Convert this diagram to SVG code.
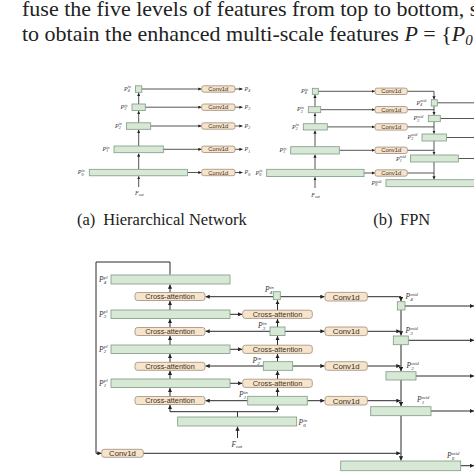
<svg xmlns="http://www.w3.org/2000/svg" width="474" height="474" viewBox="0 0 474 474">
<defs>
<style>
.g{fill:#d7e8d5;stroke:#7d9a84;stroke-width:0.8}
.c{fill:#f7e4cc;stroke:#a08e78;stroke-width:0.8}
.ln{fill:none;stroke:#2a2a2a;stroke-width:0.8}
.lc{fill:none;stroke:#2a2a2a;stroke-width:1}
.t{font-family:"Liberation Sans",Arial,sans-serif;fill:#3b2f25;text-anchor:middle}
.ts{font-size:5.8px}
.tc{font-size:7.8px}
.tx{font-size:7.3px}
.m{font-family:"Liberation Serif","Times New Roman",serif;font-style:italic;fill:#333}
.body{font-family:"Liberation Serif","Times New Roman",serif;font-size:22px;fill:#222}
.cap{font-family:"Liberation Serif","Times New Roman",serif;font-size:16.5px;fill:#222}
</style>
<marker id="a" viewBox="0 0 10 10" refX="10" refY="5" markerWidth="3.2" markerHeight="3.2" markerUnits="userSpaceOnUse" orient="auto"><path d="M0,0 L10,5 L0,10 z" fill="#222"/></marker>
<marker id="b" viewBox="0 0 10 10" refX="10" refY="5" markerWidth="4.2" markerHeight="4.2" markerUnits="userSpaceOnUse" orient="auto"><path d="M0,0 L10,5 L0,10 z" fill="#222"/></marker>
</defs>
<rect width="474" height="474" fill="#fff"/>

<!-- body text -->
<text class="body" x="22" y="16">fuse the five levels of features from top to bottom, s</text>
<text class="body" x="22" y="40.5">to obtain the enhanced multi-scale features <tspan font-style="italic">P</tspan> = {<tspan font-style="italic">P</tspan><tspan font-style="italic" font-size="15" dy="4">0</tspan></text>

<!-- captions -->
<text class="cap" x="77" y="225">(a)</text>
<text class="cap" x="103.3" y="225">Hierarchical Network</text>
<text class="cap" x="373.3" y="225">(b)</text>
<text class="cap" x="400" y="225">FPN</text>

<!-- ================= (a) connectors ================= -->
<g id="a-connectors" class="ln">
<path d="M138.7,187 V176.2" marker-end="url(#a)"/>
<path d="M138.7,169.3 V153.5" marker-end="url(#a)"/>
<path d="M138.7,146 V129.8" marker-end="url(#a)"/>
<path d="M138.7,122.8 V111" marker-end="url(#a)"/>
<path d="M138.7,104 V92.8" marker-end="url(#a)"/>
<path d="M141.7,89 H201.5" marker-end="url(#a)"/>
<path d="M145.3,107.2 H201.5" marker-end="url(#a)"/>
<path d="M150.7,126 H201.5" marker-end="url(#a)"/>
<path d="M163.3,149.3 H201.5" marker-end="url(#a)"/>
<path d="M187.5,172.5 H201.5" marker-end="url(#a)"/>
<path d="M235,89 H242.5" marker-end="url(#a)"/>
<path d="M235,107.2 H242.5" marker-end="url(#a)"/>
<path d="M235,126 H242.5" marker-end="url(#a)"/>
<path d="M235,149.3 H242.5" marker-end="url(#a)"/>
<path d="M235,172.5 H242.5" marker-end="url(#a)"/>
</g>
<g id="a-p4in"><rect class="g" x="135.5" y="85.8" width="6.3" height="6.5"/><text class="m" font-size="6" x="124" y="90.7">P<tspan font-size="4" x="127.8" y="88.3">in</tspan><tspan font-size="4" x="127.8" y="92">4</tspan></text></g>
<g id="a-p3in"><rect class="g" x="132" y="104" width="13.3" height="6.5"/><text class="m" font-size="6" x="120.5" y="108.9">P<tspan font-size="4" x="124.3" y="106.5">in</tspan><tspan font-size="4" x="124.3" y="110.2">3</tspan></text></g>
<g id="a-p2in"><rect class="g" x="126.5" y="122.8" width="24.2" height="6.5"/><text class="m" font-size="6" x="115" y="127.7">P<tspan font-size="4" x="118.8" y="125.3">in</tspan><tspan font-size="4" x="118.8" y="129">2</tspan></text></g>
<g id="a-p1in"><rect class="g" x="114" y="146" width="49.3" height="6.7"/><text class="m" font-size="6" x="102.5" y="151">P<tspan font-size="4" x="106.3" y="148.6">in</tspan><tspan font-size="4" x="106.3" y="152.3">1</tspan></text></g>
<g id="a-p0in"><rect class="g" x="89.3" y="169.3" width="98.2" height="6.5"/><text class="m" font-size="6" x="77.8" y="174.2">P<tspan font-size="4" x="81.6" y="171.8">in</tspan><tspan font-size="4" x="81.6" y="175.5">0</tspan></text></g>
<g id="a-fcat"><text class="m" font-size="6" x="135" y="194.5">F<tspan font-size="4" dy="1">cat</tspan></text></g>
<g id="a-conv4"><rect class="c" x="201.7" y="85.8" width="33.3" height="6.4" rx="2"/><text class="t ts" x="218.3" y="91">Conv1d</text></g>
<g id="a-conv3"><rect class="c" x="201.7" y="104" width="33.3" height="6.4" rx="2"/><text class="t ts" x="218.3" y="109.2">Conv1d</text></g>
<g id="a-conv2"><rect class="c" x="201.7" y="122.8" width="33.3" height="6.4" rx="2"/><text class="t ts" x="218.3" y="128">Conv1d</text></g>
<g id="a-conv1"><rect class="c" x="201.7" y="146.1" width="33.3" height="6.4" rx="2"/><text class="t ts" x="218.3" y="151.3">Conv1d</text></g>
<g id="a-conv0"><rect class="c" x="201.7" y="169.3" width="33.3" height="6.4" rx="2"/><text class="t ts" x="218.3" y="174.5">Conv1d</text></g>
<g id="a-out"><text class="m" font-size="6" x="244.5" y="90.8">P<tspan font-size="4" x="248.3" y="92.2">4</tspan></text>
<text class="m" font-size="6" x="244.5" y="109">P<tspan font-size="4" x="248.3" y="110.4">3</tspan></text>
<text class="m" font-size="6" x="244.5" y="127.8">P<tspan font-size="4" x="248.3" y="129.2">2</tspan></text>
<text class="m" font-size="6" x="244.5" y="151.1">P<tspan font-size="4" x="248.3" y="152.5">1</tspan></text>
<text class="m" font-size="6" x="244.5" y="174.3">P<tspan font-size="4" x="248.3" y="175.7">0</tspan></text></g>

<!-- ================= (b) connectors ================= -->
<g id="b-connectors" class="ln">
<path d="M315,188 V177.2" marker-end="url(#a)"/>
<path d="M315,169.3 V154.5" marker-end="url(#a)"/>
<path d="M315,146.7 V130.5" marker-end="url(#a)"/>
<path d="M315,123.7 V113.2" marker-end="url(#a)"/>
<path d="M315,106.7 V94.8" marker-end="url(#a)"/>
<path d="M318.3,91.3 H374.8" marker-end="url(#a)"/>
<path d="M320.7,109.7 H374.8" marker-end="url(#a)"/>
<path d="M327.3,126.9 H374.8" marker-end="url(#a)"/>
<path d="M339.3,150.3 H374.8" marker-end="url(#a)"/>
<path d="M364,173 H374.8" marker-end="url(#a)"/>
<path d="M407.3,91.3 H434 V99.4" marker-end="url(#a)"/>
<path d="M407.3,109.7 H434"/>
<path d="M407.3,126.9 H434"/>
<path d="M407.3,150.3 H434"/>
<path d="M407.3,173 H434"/>
<path d="M434,106 V115" marker-end="url(#a)"/>
<path d="M434,121.7 V133.7" marker-end="url(#a)"/>
<path d="M434,141 V154.7" marker-end="url(#a)"/>
<path d="M434,162 V179.4" marker-end="url(#a)"/>
<path d="M437.3,102.8 H474"/>
<path d="M440.3,118.5 H474"/>
<path d="M446.5,137.5 H474"/>
<path d="M458.3,158.5 H474"/>
</g>
<g id="b-p4in"><rect class="g" x="312.3" y="88.3" width="6" height="6"/><text class="m" font-size="6" x="301" y="93">P<tspan font-size="4" x="304.8" y="90.6">in</tspan><tspan font-size="4" x="304.8" y="94.3">4</tspan></text></g>
<g id="b-p3in"><rect class="g" x="308.3" y="106.7" width="12.4" height="6"/><text class="m" font-size="6" x="297" y="111.4">P<tspan font-size="4" x="300.8" y="109">in</tspan><tspan font-size="4" x="300.8" y="112.7">3</tspan></text></g>
<g id="b-p2in"><rect class="g" x="303.3" y="123.7" width="24" height="6.3"/><text class="m" font-size="6" x="292" y="128.6">P<tspan font-size="4" x="295.8" y="126.2">in</tspan><tspan font-size="4" x="295.8" y="129.9">2</tspan></text></g>
<g id="b-p1in"><rect class="g" x="290.7" y="146.7" width="48.6" height="7.3"/><text class="m" font-size="6" x="279.5" y="152">P<tspan font-size="4" x="283.3" y="149.6">in</tspan><tspan font-size="4" x="283.3" y="153.3">1</tspan></text></g>
<g id="b-p0in"><rect class="g" x="266.7" y="169.3" width="97.3" height="7.3"/><text class="m" font-size="6" x="255.5" y="174.7">P<tspan font-size="4" x="259.3" y="172.3">in</tspan><tspan font-size="4" x="259.3" y="176">0</tspan></text></g>
<g id="b-fcat"><text class="m" font-size="6" x="311.3" y="196.5">F<tspan font-size="4" dy="1">cat</tspan></text></g>
<g id="b-conv4"><rect class="c" x="375" y="88.1" width="32.3" height="6.4" rx="2"/><text class="t ts" x="391.2" y="93.3">Conv1d</text></g>
<g id="b-conv3"><rect class="c" x="375" y="106.5" width="32.3" height="6.4" rx="2"/><text class="t ts" x="391.2" y="111.7">Conv1d</text></g>
<g id="b-conv2"><rect class="c" x="375" y="123.7" width="32.3" height="6.4" rx="2"/><text class="t ts" x="391.2" y="128.9">Conv1d</text></g>
<g id="b-conv1"><rect class="c" x="375" y="147.1" width="32.3" height="6.4" rx="2"/><text class="t ts" x="391.2" y="152.3">Conv1d</text></g>
<g id="b-conv0"><rect class="c" x="375" y="169.8" width="32.3" height="6.4" rx="2"/><text class="t ts" x="391.2" y="175">Conv1d</text></g>
<g id="b-p4mid"><rect class="g" x="431.3" y="99.7" width="6" height="6.3"/><text class="m" font-size="6" x="416.5" y="104.5">P<tspan font-size="4" x="420.3" y="102.1">mid</tspan><tspan font-size="4" x="420.3" y="105.8">4</tspan></text></g>
<g id="b-p3mid"><rect class="g" x="428.3" y="115.3" width="12" height="6.4"/><text class="m" font-size="6" x="413.5" y="120.2">P<tspan font-size="4" x="417.3" y="117.8">mid</tspan><tspan font-size="4" x="417.3" y="121.5">3</tspan></text></g>
<g id="b-p2mid"><rect class="g" x="422" y="134" width="24.5" height="7"/><text class="m" font-size="6" x="407.5" y="138.5">P<tspan font-size="4" x="411.3" y="136.1">mid</tspan><tspan font-size="4" x="411.3" y="139.8">2</tspan></text></g>
<g id="b-p1mid"><rect class="g" x="410.5" y="155" width="47.8" height="7"/><text class="m" font-size="6" x="396" y="160.7">P<tspan font-size="4" x="399.8" y="158.3">mid</tspan><tspan font-size="4" x="399.8" y="162">1</tspan></text></g>
<g id="b-p0mid"><rect class="g" x="386" y="179.7" width="94" height="7"/><text class="m" font-size="6" x="371.5" y="184.9">P<tspan font-size="4" x="375.3" y="182.5">mid</tspan><tspan font-size="4" x="375.3" y="186.2">0</tspan></text></g>

<!-- ================= (c) connectors ================= -->
<g id="c-connectors" class="lc">
<path d="M170,274.6 V262 H96 V453.3 H101.5" marker-end="url(#b)"/>
<path d="M143.3,453.3 H400.5" marker-end="url(#b)"/>
<path d="M170,411.7 V405" marker-end="url(#b)"/>
<path d="M170,396.5 V388" marker-end="url(#b)"/>
<path d="M170,379 V370.8" marker-end="url(#b)"/>
<path d="M170,362.3 V354" marker-end="url(#b)"/>
<path d="M170,345 V336" marker-end="url(#b)"/>
<path d="M170,327.5 V319" marker-end="url(#b)"/>
<path d="M170,310 V301" marker-end="url(#b)"/>
<path d="M170,292.5 V284.5" marker-end="url(#b)"/>
<path d="M170,411.7 H277.5 V405.5" marker-end="url(#b)"/>
<path d="M237.5,417 V411.7"/>
<path d="M237.5,438 V426.5" marker-end="url(#b)"/>
<path d="M277.5,396.3 V388" marker-end="url(#b)"/>
<path d="M277.5,379 V370.8" marker-end="url(#b)"/>
<path d="M277.5,361.7 V354" marker-end="url(#b)"/>
<path d="M277.5,345 V336" marker-end="url(#b)"/>
<path d="M277.5,327 V319" marker-end="url(#b)"/>
<path d="M277.5,310 V300.2" marker-end="url(#b)"/>
<path d="M273.3,296.7 H205.5" marker-end="url(#b)"/>
<path d="M270,331.3 H205.5" marker-end="url(#b)"/>
<path d="M263.3,366 H205.5" marker-end="url(#b)"/>
<path d="M247.7,400.7 H205.5" marker-end="url(#b)"/>
<path d="M230,314.3 H242.2" marker-end="url(#b)"/>
<path d="M230,349.3 H242.2" marker-end="url(#b)"/>
<path d="M230,383.3 H242.2" marker-end="url(#b)"/>
<path d="M280.3,296.7 H324.5" marker-end="url(#b)"/>
<path d="M285,331.3 H324.5" marker-end="url(#b)"/>
<path d="M292.7,366 H324.5" marker-end="url(#b)"/>
<path d="M307.3,400.7 H324.5" marker-end="url(#b)"/>
<path d="M367.3,296.7 H401 V301.2" marker-end="url(#b)"/>
<path d="M367.3,331.3 H400.5" marker-end="url(#b)"/>
<path d="M367.3,366 H400.5" marker-end="url(#b)"/>
<path d="M367.3,400.7 H400.5" marker-end="url(#b)"/>
<path d="M401,310 V335.5" marker-end="url(#b)"/>
<path d="M401,344.7 V371.2" marker-end="url(#b)"/>
<path d="M401,380 V406.2" marker-end="url(#b)"/>
<path d="M401,415.7 V460.5" marker-end="url(#b)"/>
<path d="M405,306 H474" marker-end="url(#b)"/>
<path d="M408.3,340.3 H474" marker-end="url(#b)"/>
<path d="M416,376 H474" marker-end="url(#b)"/>
<path d="M431,411 H474" marker-end="url(#b)"/>
<path d="M460.7,465.7 H474" marker-end="url(#b)"/>
</g>

<g id="c-p4pl"><rect class="g" x="111" y="275" width="119" height="9"/><text class="m" font-size="7.5" x="99" y="281.8">P<tspan font-size="5" x="103.8" y="278.5">pl</tspan><tspan font-size="5" x="103.8" y="283.6">4</tspan></text></g>
<g id="c-p3pl"><rect class="g" x="111" y="310" width="119" height="8.5"/><text class="m" font-size="7.5" x="99" y="316.6">P<tspan font-size="5" x="103.8" y="313.3">pl</tspan><tspan font-size="5" x="103.8" y="318.4">3</tspan></text></g>
<g id="c-p2pl"><rect class="g" x="111" y="345" width="119" height="8.5"/><text class="m" font-size="7.5" x="99" y="351.6">P<tspan font-size="5" x="103.8" y="348.3">pl</tspan><tspan font-size="5" x="103.8" y="353.4">2</tspan></text></g>
<g id="c-p1pl"><rect class="g" x="111" y="379" width="119" height="8.5"/><text class="m" font-size="7.5" x="99" y="385.6">P<tspan font-size="5" x="103.8" y="382.3">pl</tspan><tspan font-size="5" x="103.8" y="387.4">1</tspan></text></g>

<g id="c-ca-l4"><rect class="c" x="135" y="292.5" width="70" height="8" rx="2.5"/><text class="t tx" x="170" y="299.2">Cross-attention</text></g>
<g id="c-ca-l3"><rect class="c" x="135" y="327.5" width="70" height="8" rx="2.5"/><text class="t tx" x="170" y="334.2">Cross-attention</text></g>
<g id="c-ca-l2"><rect class="c" x="135" y="362.3" width="70" height="8" rx="2.5"/><text class="t tx" x="170" y="369">Cross-attention</text></g>
<g id="c-ca-l1"><rect class="c" x="135" y="396.5" width="70" height="8" rx="2.5"/><text class="t tx" x="170" y="403.2">Cross-attention</text></g>
<g id="c-ca-r3"><rect class="c" x="242.7" y="310.2" width="69.6" height="8.2" rx="2.5"/><text class="t tx" x="277.5" y="317">Cross-attention</text></g>
<g id="c-ca-r2"><rect class="c" x="242.7" y="345.2" width="69.6" height="8.2" rx="2.5"/><text class="t tx" x="277.5" y="352">Cross-attention</text></g>
<g id="c-ca-r1"><rect class="c" x="242.7" y="379.2" width="69.6" height="8.2" rx="2.5"/><text class="t tx" x="277.5" y="386">Cross-attention</text></g>

<g id="c-p4in"><rect class="g" x="273.3" y="291.7" width="7" height="8"/><text class="m" font-size="7.5" x="265" y="292.2">P<tspan font-size="5" x="269.8" y="289">in</tspan><tspan font-size="5" x="269.8" y="294">4</tspan></text></g>
<g id="c-p3in"><rect class="g" x="270" y="327" width="15" height="8.5"/><text class="m" font-size="7.5" x="258" y="327.7">P<tspan font-size="5" x="262.8" y="324.5">in</tspan><tspan font-size="5" x="262.8" y="329.5">3</tspan></text></g>
<g id="c-p2in"><rect class="g" x="263.3" y="361.7" width="29.4" height="8.6"/><text class="m" font-size="7.5" x="252.5" y="362.7">P<tspan font-size="5" x="257.3" y="359.5">in</tspan><tspan font-size="5" x="257.3" y="364.5">2</tspan></text></g>
<g id="c-p1in"><rect class="g" x="247.7" y="396.3" width="59.6" height="8.7"/><text class="m" font-size="7.5" x="239" y="397.2">P<tspan font-size="5" x="243.8" y="394">in</tspan><tspan font-size="5" x="243.8" y="399">1</tspan></text></g>
<g id="c-p0in"><rect class="g" x="177.7" y="417" width="119" height="9"/><text class="m" font-size="7.5" x="298.5" y="425.2">P<tspan font-size="5" x="303.3" y="422">in</tspan><tspan font-size="5" x="303.3" y="427">0</tspan></text></g>
<g id="c-fcat"><text class="m" font-size="7.5" x="231.5" y="446.5">F<tspan font-size="5" dy="1.5">cat</tspan></text></g>

<g id="c-conv4"><rect class="c" x="325" y="292.4" width="42.3" height="8.6" rx="2.5"/><text class="t tc" x="346.2" y="299.5">Conv1d</text></g>
<g id="c-conv3"><rect class="c" x="325" y="327" width="42.3" height="8.6" rx="2.5"/><text class="t tc" x="346.2" y="334.1">Conv1d</text></g>
<g id="c-conv2"><rect class="c" x="325" y="361.7" width="42.3" height="8.6" rx="2.5"/><text class="t tc" x="346.2" y="368.8">Conv1d</text></g>
<g id="c-conv1"><rect class="c" x="325" y="396.4" width="42.3" height="8.6" rx="2.5"/><text class="t tc" x="346.2" y="403.5">Conv1d</text></g>
<g id="c-conv-bottom"><rect class="c" x="101.7" y="449.3" width="41.6" height="8" rx="2.5"/><text class="t tc" x="122.5" y="456.1">Conv1d</text></g>

<g id="c-p4mid"><rect class="g" x="397.3" y="301.7" width="7.7" height="8.3"/><text class="m" font-size="7.5" x="405.5" y="299.2">P<tspan font-size="5" x="410.3" y="296">mid</tspan><tspan font-size="5" x="410.3" y="301">4</tspan></text></g>
<g id="c-p3mid"><rect class="g" x="393.3" y="336" width="15" height="8.7"/><text class="m" font-size="7.5" x="405.5" y="333.2">P<tspan font-size="5" x="410.3" y="330">mid</tspan><tspan font-size="5" x="410.3" y="335">3</tspan></text></g>
<g id="c-p2mid"><rect class="g" x="386" y="371.7" width="30" height="8.3"/><text class="m" font-size="7.5" x="406.5" y="368.2">P<tspan font-size="5" x="411.3" y="365">mid</tspan><tspan font-size="5" x="411.3" y="370">2</tspan></text></g>
<g id="c-p1mid"><rect class="g" x="370.7" y="406.7" width="60.3" height="9"/><text class="m" font-size="7.5" x="417" y="402.2">P<tspan font-size="5" x="421.8" y="399">mid</tspan><tspan font-size="5" x="421.8" y="404">1</tspan></text></g>
<g id="c-p0mid"><rect class="g" x="340.7" y="461" width="120" height="9.7"/><text class="m" font-size="7.5" x="447" y="458.2">P<tspan font-size="5" x="451.8" y="455">mid</tspan><tspan font-size="5" x="451.8" y="460">0</tspan></text></g>
</svg>
